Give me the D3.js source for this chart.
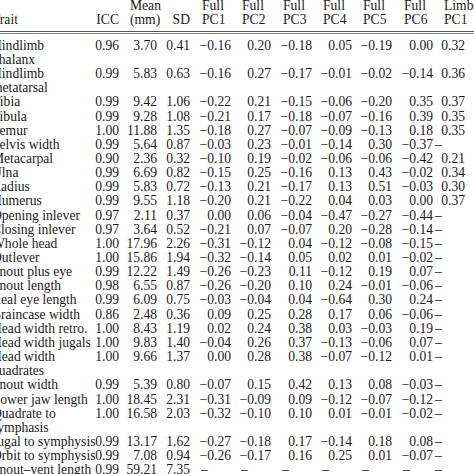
<!DOCTYPE html>
<html><head><meta charset="utf-8">
<script src="https://cdn.jsdelivr.net/npm/d3@7"></script>
<style>body{margin:0;background:#fff}text{font-family:"Liberation Serif","Times New Roman",serif;font-size:13.6px;fill:#1a1a1a}</style>
</head><body><svg id="t" width="474" height="474"></svg>
<script>
var headers1 = ["", "", "Mean", "", "Full", "Full", "Full", "Full", "Full", "Full", "Limb"];
var headers2 = ["Trait", "ICC", "(mm)", "SD", "PC1", "PC2", "PC3", "PC4", "PC5", "PC6", "PC1"];
var traits = [["Hindlimb", "phalanx"], ["Hindlimb", "metatarsal"], ["Tibia"], ["Fibula"], ["Femur"], ["Pelvis width"],
  ["Metacarpal"], ["Ulna"], ["Radius"], ["Humerus"], ["Opening inlever"], ["Closing inlever"], ["Whole head"],
  ["Outlever"], ["Snout plus eye"], ["Snout length"], ["Real eye length"], ["Braincase width"], ["Head width retro."],
  ["Head width jugals"], ["Head width", "quadrates"], ["Snout width"], ["Lower jaw length"], ["Quadrate to", "symphasis"],
  ["Jugal to symphysis"], ["Orbit to symphysis"], ["Snout–vent length"]];
var icc = ["0.96","0.99","0.99","0.99","1.00","0.99","0.90","0.99","0.99","0.99","0.97","0.97","1.00","1.00","0.99","0.98","0.99","0.86","1.00","1.00","1.00","0.99","1.00","1.00","0.99","0.99","0.99"];
var mean = ["3.70","5.83","9.42","9.28","11.88","5.64","2.36","6.69","5.83","9.55","2.11","3.64","17.96","15.86","12.22","6.55","6.09","2.48","8.43","9.83","9.66","5.39","18.45","16.58","13.17","7.08","59.21"];
var sd = ["0.41","0.63","1.06","1.08","1.35","0.87","0.32","0.82","0.72","1.18","0.37","0.52","2.26","1.94","1.49","0.87","0.75","0.36","1.19","1.40","1.37","0.80","2.31","2.03","1.62","0.94","7.35"];
var pc1 = ["−0.16","−0.16","−0.22","−0.21","−0.18","−0.03","−0.10","−0.15","−0.13","−0.20","0.00","−0.21","−0.31","−0.32","−0.26","−0.26","−0.03","0.09","0.02","−0.04","0.00","−0.07","−0.31","−0.32","−0.27","−0.26","–"];
var pc2 = ["0.20","0.27","0.21","0.17","0.27","0.23","0.19","0.25","0.21","0.21","0.06","0.07","−0.12","−0.14","−0.23","−0.20","−0.04","0.25","0.24","0.26","0.28","0.15","−0.09","−0.10","−0.18","−0.17","–"];
var pc3 = ["−0.18","−0.17","−0.15","−0.18","−0.07","−0.01","−0.02","−0.16","−0.17","−0.22","−0.04","−0.07","0.04","0.05","0.11","0.10","0.04","0.28","0.38","0.37","0.38","0.42","0.09","0.10","0.17","0.16","–"];
var pc4 = ["0.05","−0.01","−0.06","−0.07","−0.09","−0.14","−0.06","0.13","0.13","0.04","−0.47","0.20","−0.12","0.02","−0.12","0.24","−0.64","0.17","0.03","−0.13","−0.07","0.13","−0.12","0.01","−0.14","0.25","–"];
var pc5 = ["−0.19","−0.02","−0.20","−0.16","−0.13","0.30","−0.06","0.43","0.51","0.03","−0.27","−0.28","−0.08","0.01","0.19","−0.01","0.30","0.06","−0.03","−0.06","−0.12","0.08","−0.07","−0.01","0.18","0.01","–"];
var pc6 = ["0.00","−0.14","0.35","0.39","0.18","−0.37","−0.42","−0.02","−0.03","0.00","−0.44","−0.14","−0.15","−0.02","0.07","−0.06","0.24","−0.06","0.19","0.07","0.01","−0.03","−0.12","−0.02","0.08","−0.07","–"];
var limb = ["0.32","0.36","0.37","0.35","0.35","–","0.21","0.34","0.30","0.37","–","–","–","–","–","–","–","–","–","–","–","–","–","–","–","–","–"];
var colRight = [null, 119, 157, 190, 231, 271, 312, 352, 392, 433, 465];
var columns = [icc, mean, sd, pc1, pc2, pc3, pc4, pc5, pc6, limb];

var svg = d3.select("#t");
var nameX = -8, lineH = 14.15, firstY = 45;
var y = d3.scaleLinear().domain([0, 1]).range([firstY, firstY + lineH]);

headers2.forEach(function(h, i) {
  var xx, anchor = "start";
  if (i === 0) xx = nameX;
  else if (i === 1 || i === 3) { xx = colRight[i]; anchor = "end"; }
  else if (i === 2) xx = 130;
  else if (i === 10) xx = 444;
  else xx = colRight[i] - 29;
  svg.append("text").attr("x", xx).attr("y", 5).attr("dy", "0.35em").attr("text-anchor", anchor).text(headers1[i]);
  svg.append("text").attr("x", xx).attr("y", 19).attr("dy", "0.35em").attr("text-anchor", anchor).text(h);
});
svg.append("line").attr("x1", 0).attr("x2", 474).attr("y1", 31.5).attr("y2", 31.5).attr("stroke", "#555").attr("stroke-width", 1);
svg.append("line").attr("x1", 0).attr("x2", 474).attr("y1", 33.5).attr("y2", 33.5).attr("stroke", "#888").attr("stroke-width", 1);

var line = 0;
traits.forEach(function(t, r) {
  t.forEach(function(part, k) {
    svg.append("text").attr("x", nameX).attr("y", y(line + k)).attr("dy", "0.35em").text(part);
  });
  columns.forEach(function(col, c) {
    var v = col[r];
    var isDash = v === "–";
    svg.append("text").attr("x", isDash ? colRight[c + 1] - 30 : colRight[c + 1])
      .attr("y", y(line)).attr("dy", "0.35em").attr("text-anchor", isDash ? "start" : "end").text(v);
  });
  line += t.length;
});
</script></body></html>
